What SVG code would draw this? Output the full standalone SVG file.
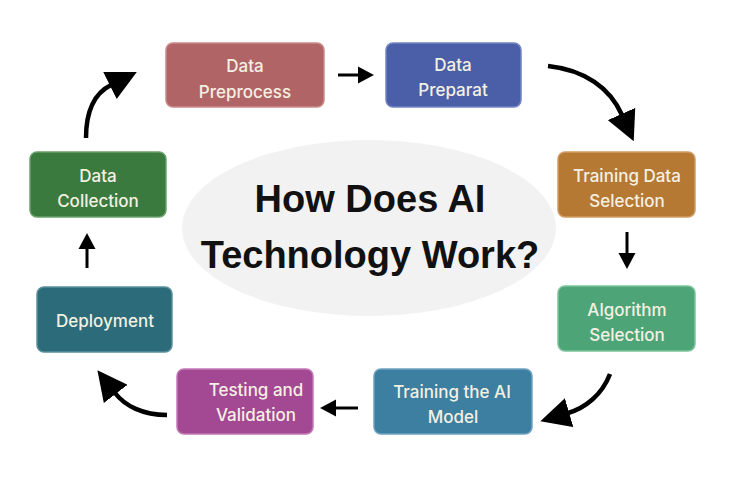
<svg xmlns="http://www.w3.org/2000/svg" width="735" height="480" viewBox="0 0 735 480">
  <defs>
    <style>
      .box { stroke-width: 1.5; }
      .lbl { font-family: Inter, "Liberation Sans", sans-serif; font-size: 17px; font-weight: 500; fill: #f4f0e2; text-anchor: middle; }
      .title { font-family: "Liberation Sans", Arial, sans-serif; font-weight: bold; font-size: 38px; fill: #111; text-anchor: middle; }
      .curve { fill: none; stroke: #000; stroke-width: 4.5; stroke-linecap: butt; }
      .straight { fill: none; stroke: #000; stroke-width: 3; }
    </style>
    <marker id="bigHead" markerUnits="userSpaceOnUse" markerWidth="30" markerHeight="30" refX="1" refY="13" orient="auto" viewBox="0 0 26 26">
      <path d="M0,0 L26,13 L0,26 Z" fill="#000"/>
    </marker>
    <marker id="smallHead" markerUnits="userSpaceOnUse" markerWidth="16" markerHeight="18" refX="1" refY="8" orient="auto" viewBox="0 0 15 16">
      <path d="M0,0 L15,8 L0,16 Z" fill="#000"/>
    </marker>
  </defs>
  <rect width="735" height="480" fill="#ffffff"/>

  <g id="center">
    <ellipse cx="369" cy="228" rx="187" ry="88" fill="#f2f2f2"/>
    <text class="title" x="370" y="212">How Does AI</text>
    <text class="title" x="370" y="268">Technology Work?</text>
  </g>

  <g id="connectors">
    <path class="straight" d="M338,75 L359,75" marker-end="url(#smallHead)"/>
    <path class="curve" d="M548,66 C585,70 610,88 622,115" marker-end="url(#bigHead)"/>
    <path class="straight" d="M627,232 L627,254" marker-end="url(#smallHead)"/>
    <path class="curve" d="M610,374 C602,395 585,408 568,413" marker-end="url(#bigHead)"/>
    <path class="straight" d="M358,408 L335,408" marker-end="url(#smallHead)"/>
    <path class="curve" d="M167,415 C143,415 125,406 115,393" marker-end="url(#bigHead)"/>
    <path class="straight" d="M87,268 L87,248" marker-end="url(#smallHead)"/>
    <path class="curve" d="M86,138 C86,110 95,93 111,85" marker-end="url(#bigHead)"/>
  </g>

  <g id="data-preprocess">
    <rect class="box" x="166" y="43" width="158" height="64" rx="7" fill="#b06466" stroke="#c98a8a"/>
    <text class="lbl" x="245" y="72">Data</text>
    <text class="lbl" x="245" y="98">Preprocess</text>
  </g>
  <g id="data-preparation">
    <rect class="box" x="386" y="43" width="135" height="64" rx="7" fill="#4a5fa7" stroke="#7286c2"/>
    <text class="lbl" x="453" y="71">Data</text>
    <text class="lbl" x="453" y="96">Preparat</text>
  </g>
  <g id="training-data-selection">
    <rect class="box" x="558" y="152" width="137" height="65" rx="7" fill="#b57934" stroke="#cf9c62"/>
    <text class="lbl" x="627" y="182">Training Data</text>
    <text class="lbl" x="627" y="207">Selection</text>
  </g>
  <g id="algorithm-selection">
    <rect class="box" x="558" y="286" width="137" height="65" rx="7" fill="#4da577" stroke="#7cc39b"/>
    <text class="lbl" x="627" y="316">Algorithm</text>
    <text class="lbl" x="627" y="341">Selection</text>
  </g>
  <g id="training-model">
    <rect class="box" x="374" y="369" width="158" height="65" rx="7" fill="#3d7fa1" stroke="#6ea3c0"/>
    <text class="lbl" x="452" y="398">Training the AI</text>
    <text class="lbl" x="453" y="423">Model</text>
  </g>
  <g id="testing-validation">
    <rect class="box" x="177" y="369" width="136" height="65" rx="7" fill="#a34893" stroke="#c478b6"/>
    <text class="lbl" x="256" y="396">Testing and</text>
    <text class="lbl" x="256" y="421">Validation</text>
  </g>
  <g id="deployment">
    <rect class="box" x="37" y="287" width="135" height="65" rx="7" fill="#2b6b7a" stroke="#5a909c"/>
    <text class="lbl" x="105" y="327">Deployment</text>
  </g>
  <g id="data-collection">
    <rect class="box" x="30" y="152" width="136" height="65" rx="7" fill="#3b7a3f" stroke="#69a06b"/>
    <text class="lbl" x="98" y="182">Data</text>
    <text class="lbl" x="98" y="207">Collection</text>
  </g>
</svg>
